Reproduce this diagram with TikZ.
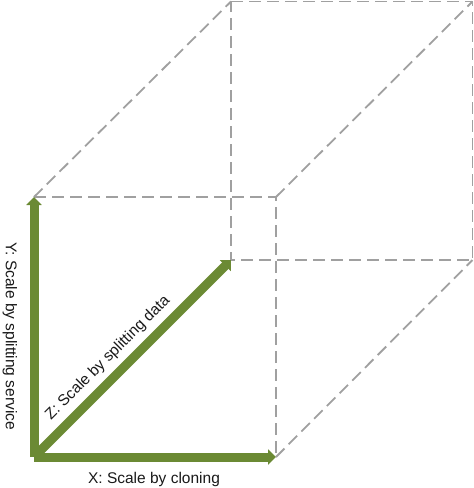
\documentclass[tikz,border=0pt]{standalone}
\usepackage{fontspec}
\setmainfont{Liberation Sans}
\usetikzlibrary{arrows.meta}
\definecolor{olive}{RGB}{107,138,52}
\definecolor{edgegray}{RGB}{160,160,160}
\definecolor{txt}{RGB}{25,25,25}
\tikzset{
  cubeedge/.style={draw=edgegray, line width=1.8pt, dash pattern=on 12pt off 6pt},
  axisarrow/.style={draw=olive, line width=9pt, -{Triangle[width=15pt,length=8pt]}},
  axislabel/.style={font=\fontsize{15.5}{18}\selectfont, text=txt, inner sep=0pt}
}
\begin{document}
\begin{tikzpicture}[x=1pt,y=-1pt]
\useasboundingbox (0,0) rectangle (474,488);
% front face
\coordinate (o)  at (34,457);
\coordinate (ft) at (34,197);
\coordinate (fr) at (276,457);
\coordinate (ftr) at (276,197);
% back face
\coordinate (bo)  at (231,260);
\coordinate (bt)  at (231,1.5);
\coordinate (br)  at (472.5,260);
\coordinate (btr) at (472.5,1.5);
% dashed cube
\draw[cubeedge] (ft) -- (ftr) -- (fr);
\draw[cubeedge] (bt) -- (btr) -- (br) -- (bo) -- cycle;
\draw[cubeedge] (ft) -- (bt);
\draw[cubeedge] (ftr) -- (btr);
\draw[cubeedge] (fr) -- (br);
% axes
\draw[axisarrow] (o) -- (ft);
\draw[axisarrow] (o) -- (fr);
\draw[axisarrow] (o) -- (bo);
% labels
\node[axislabel] (xl) at (154,479) {X: Scale by cloning};
\node[axislabel, rotate=-90] (yl) at (10,336) {Y: Scale by splitting service};
\node[axislabel, rotate=45] (zl) at (108,358) {Z: Scale by splitting data};
\end{tikzpicture}
\end{document}
